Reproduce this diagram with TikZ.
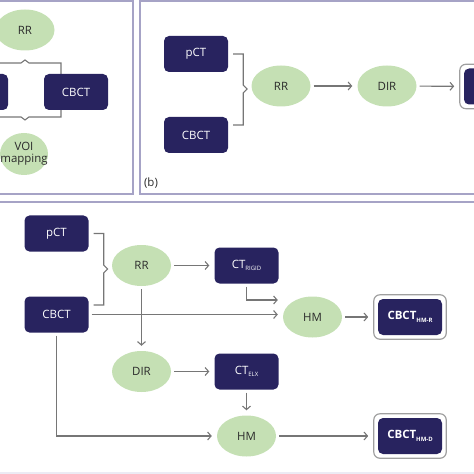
\documentclass[tikz,border=0pt]{standalone}
\usepackage{fontspec}
\setmainfont{Open Sans}
\usepackage{tikz}
\usetikzlibrary{calc,arrows.meta,positioning,shapes.geometric,fit}
\definecolor{panelNavy}{HTML}{28235F}
\definecolor{softGreen}{HTML}{C5E0B4}
\definecolor{lineGray}{HTML}{767676}
\definecolor{frameLilac}{HTML}{A6A3C6}
\definecolor{bandLilac}{HTML}{ECEBF4}
\definecolor{ovalText}{HTML}{2B2B2B}
\newcommand{\lowtag}[1]{\raisebox{-2.5bp}{\fontsize{6}{7}\selectfont #1}}

\begin{document}
\begin{tikzpicture}[x=1bp,y=-1bp,
        box/.style={fill=panelNavy,rounded corners=5bp,minimum width=64bp,minimum height=36bp,
        inner sep=2bp,text=white,font=\fontsize{11.5}{13}\selectfont},
        oval/.style={ellipse,fill=softGreen,minimum width=59bp,minimum height=41bp,inner sep=0pt,
        text=ovalText,font=\fontsize{11.5}{13}\selectfont},
        result/.style={draw=gray!75,line width=1.2bp,rounded corners=6bp,inner sep=4bp},
        panel/.style={draw=frameLilac,line width=1.5bp},
        arrow/.style={-{Straight Barb[length=3.5bp,width=8bp]},draw=lineGray,line width=1.1bp,
        shorten <=3bp,shorten >=5bp},
        bracket/.style={draw=lineGray,line width=1.1bp}]
        \useasboundingbox (0,0) rectangle (474,474);
        \clip (0,0) rectangle (474,474);
        % panel frames
        \draw[panel] (-10,1) rectangle (133,194);
        \draw[panel] (140,1) rectangle (490,194);
        \draw[panel] (-10,202) rectangle (490,490);
        \fill[bandLilac] (0,472) rectangle (474,474);
        % (a) part, cut at the left
        \node[oval] (rrA) at (25,30) {RR};
        \draw[bracket] (61,74) -- ++(0,-11) -- ++(-32,0) -- ++(-4,-3) -- ++(-4,3) -- ++(-32,0) -- ++(0,11);
        \draw[bracket] (61,110) -- ++(0,7) -- ++(-32,0) -- ++(-4,3) -- ++(-4,-3) -- ++(-32,0) -- ++(0,-7);
        \node[box] (leftA) at (-24,92) {};
        \node[box] (cbctA) at (76,92) {CBCT};
        \node[oval,minimum width=48bp,minimum height=42bp,
            label={[align=center,text=ovalText,font=\fontsize{11.5}{12}\selectfont]center:VOI\\mapping}] (voiA) at (24,154) {};
        % (b)
        \node[box] (pctB) at (196,54) {pCT};
        \node[box] (cbctB) at (196,135) {CBCT};
        \draw[bracket] ($(pctB.east)+(5,0)$) -- ++(10,0) -- ++(0,31) -- ++(4,4) -- ++(-4,4) -- ++(0,32) -- ++(-10,0);
        \node[oval] (rrB) at (281,86) {RR};
        \node[oval] (dirB) at (387,86) {DIR};
        \node[box] (outB) at (496,86.5) {};
        \node[result,fit=(outB)] (outBframe) {};
        \draw[arrow] (rrB) -- (dirB);
        \draw[arrow] (dirB) -- (outBframe);
        \node[text=ovalText,font=\fontsize{11.5}{13}\selectfont] (tagB) at (151,183) {(b)};
        % (c)
        \node[box] (pctC) at (56.5,233.5) {pCT};
        \node[box] (cbctC) at (56.5,314.5) {CBCT};
        \draw[bracket] ($(pctC.east)+(5,0)$) -- ++(10,0) -- ++(0,31.5) -- ++(4,4) -- ++(-4,4) -- ++(0,32) -- ++(-10,0);
        \node[oval] (rrC) at (141.5,265.5) {RR};
        \node[oval] (dirC) at (141.5,371.5) {DIR};
        \node[box] (ctRigid) at (246.5,265.5) {CT\lowtag{RIGID}};
        \node[box] (ctElx) at (246.5,371.5) {CT\lowtag{ELX}};
        \node[oval] (hmR) at (312.5,317) {HM};
        \node[oval] (hmD) at (246.5,436) {HM};
        \node[box,font=\fontsize{11.5}{13}\selectfont\bfseries] (cbctHmR) at (410,317) {CBCT\lowtag{HM-R}};
        \node[result,fit=(cbctHmR)] (cbctHmRframe) {};
        \node[box,font=\fontsize{11.5}{13}\selectfont\bfseries] (cbctHmD) at (410,436) {CBCT\lowtag{HM-D}};
        \node[result,fit=(cbctHmD)] (cbctHmDframe) {};
        \draw[arrow] (rrC) -- (ctRigid);
        \draw[arrow] (rrC) -- (dirC);
        \draw[arrow] (dirC) -- (ctElx);
        \draw[arrow] (cbctC.east) -- (cbctC.east -| hmR.west);
        \draw[arrow] (ctRigid.south) |- ($(hmR.west)+(0,-17)$);
        \draw[arrow] (ctElx) -- (hmD);
        \draw[arrow] (cbctC.south) |- (hmD.west);
        \draw[arrow] (hmR) -- (cbctHmRframe);
        \draw[arrow] (hmD) -- (cbctHmDframe);
    \end{tikzpicture}
\end{document}
